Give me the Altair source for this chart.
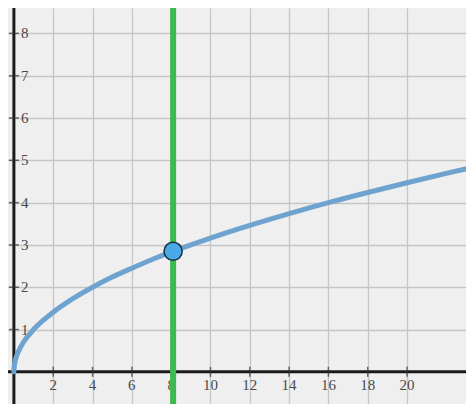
import altair as alt
import pandas as pd

# data
curve_x = [0, 0.02, 0.05, 0.1, 0.25, 0.5, 1, 1.5, 2, 3, 4, 5, 6, 7, 8, 10, 12, 14, 16, 18, 20, 22, 23.4]
curve_y = [0, 0.14, 0.22, 0.32, 0.5, 0.71, 1.0, 1.22, 1.41, 1.73, 2.0, 2.24, 2.45, 2.65, 2.83, 3.16, 3.46, 3.74, 4.0, 4.24, 4.47, 4.69, 4.84]
x_ticks = [2, 4, 6, 8, 10, 12, 14, 16, 18, 20]
y_ticks = [1, 2, 3, 4, 5, 6, 7, 8]
marker_x = [8.1]
marker_y = [2.85]

X_DOMAIN = [-0.3, 23.0]
Y_DOMAIN = [-0.76, 8.6]

curve = pd.DataFrame({"x": curve_x, "y": curve_y})
xt = pd.DataFrame({"x": x_ticks, "y": [0] * len(x_ticks), "label": [str(v) for v in x_ticks]})
yt = pd.DataFrame({"x": [0] * len(y_ticks), "y": y_ticks, "label": [str(v) for v in y_ticks]})
pt = pd.DataFrame({"x": marker_x, "y": marker_y})

xs = alt.Scale(domain=X_DOMAIN, nice=False, zero=False)
ys = alt.Scale(domain=Y_DOMAIN, nice=False, zero=False)

grid_x_axis = alt.Axis(values=x_ticks, grid=True, labels=False, ticks=False, domain=False,
                       title=None, gridColor="#c6c6c6", gridWidth=1.3, gridOpacity=1)
grid_y_axis = alt.Axis(values=y_ticks, grid=True, labels=False, ticks=False, domain=False,
                       title=None, gridColor="#c6c6c6", gridWidth=1.3, gridOpacity=1)

base_grid = alt.Chart(pt).mark_point(opacity=0).encode(
    x=alt.X("x:Q", scale=xs, axis=grid_x_axis),
    y=alt.Y("y:Q", scale=ys, axis=grid_y_axis),
)

y_axis_line = alt.Chart(pd.DataFrame({"x": [0]})).mark_rule(color="#1a1a1a", strokeWidth=3, clip=True).encode(
    x=alt.X("x:Q", scale=xs)
)
x_axis_line = alt.Chart(pd.DataFrame({"y": [0]})).mark_rule(color="#1a1a1a", strokeWidth=3, clip=True).encode(
    y=alt.Y("y:Q", scale=ys)
)

x_tickmarks = alt.Chart(xt).mark_tick(orient="vertical", size=10, thickness=1.5, color="#333333").encode(
    x=alt.X("x:Q", scale=xs), y=alt.Y("y:Q", scale=ys)
)
y_tickmarks = alt.Chart(yt).mark_tick(orient="horizontal", size=10, thickness=1.5, color="#333333").encode(
    x=alt.X("x:Q", scale=xs), y=alt.Y("y:Q", scale=ys)
)

x_labels = alt.Chart(xt).mark_text(baseline="top", align="center", dy=6, font="Liberation Serif",
                                   fontSize=15, color="#4a4a4a").encode(
    x=alt.X("x:Q", scale=xs), y=alt.Y("y:Q", scale=ys), text="label:N"
)
y_labels = alt.Chart(yt).mark_text(baseline="middle", align="left", dx=7, font="Liberation Serif",
                                   fontSize=15, color="#4a4a4a").encode(
    x=alt.X("x:Q", scale=xs), y=alt.Y("y:Q", scale=ys), text="label:N"
)

line = alt.Chart(curve).mark_line(color="#6fa3cf", strokeWidth=5, interpolate="monotone", clip=True,
                                  strokeCap="round").encode(
    x=alt.X("x:Q", scale=xs), y=alt.Y("y:Q", scale=ys)
)

vline = alt.Chart(pt).mark_rule(color="#3dba4e", strokeWidth=6, clip=True).encode(
    x=alt.X("x:Q", scale=xs)
)

marker = alt.Chart(pt).mark_point(filled=True, fill="#4aaae8", stroke="#16303f", strokeWidth=1.5,
                                  size=330, opacity=1, fillOpacity=1).encode(
    x=alt.X("x:Q", scale=xs), y=alt.Y("y:Q", scale=ys)
)

chart = alt.layer(
    base_grid, x_axis_line, y_axis_line, x_tickmarks, y_tickmarks, x_labels, y_labels, line, vline, marker
).properties(
    width=458, height=396, padding=0, background="#efefef",
    autosize=alt.AutoSizeParams(type="fit", contains="padding"),
).configure_view(stroke=None, fill="#efefef")

chart.save("out.html", embed_options={"renderer": "svg", "actions": False})
